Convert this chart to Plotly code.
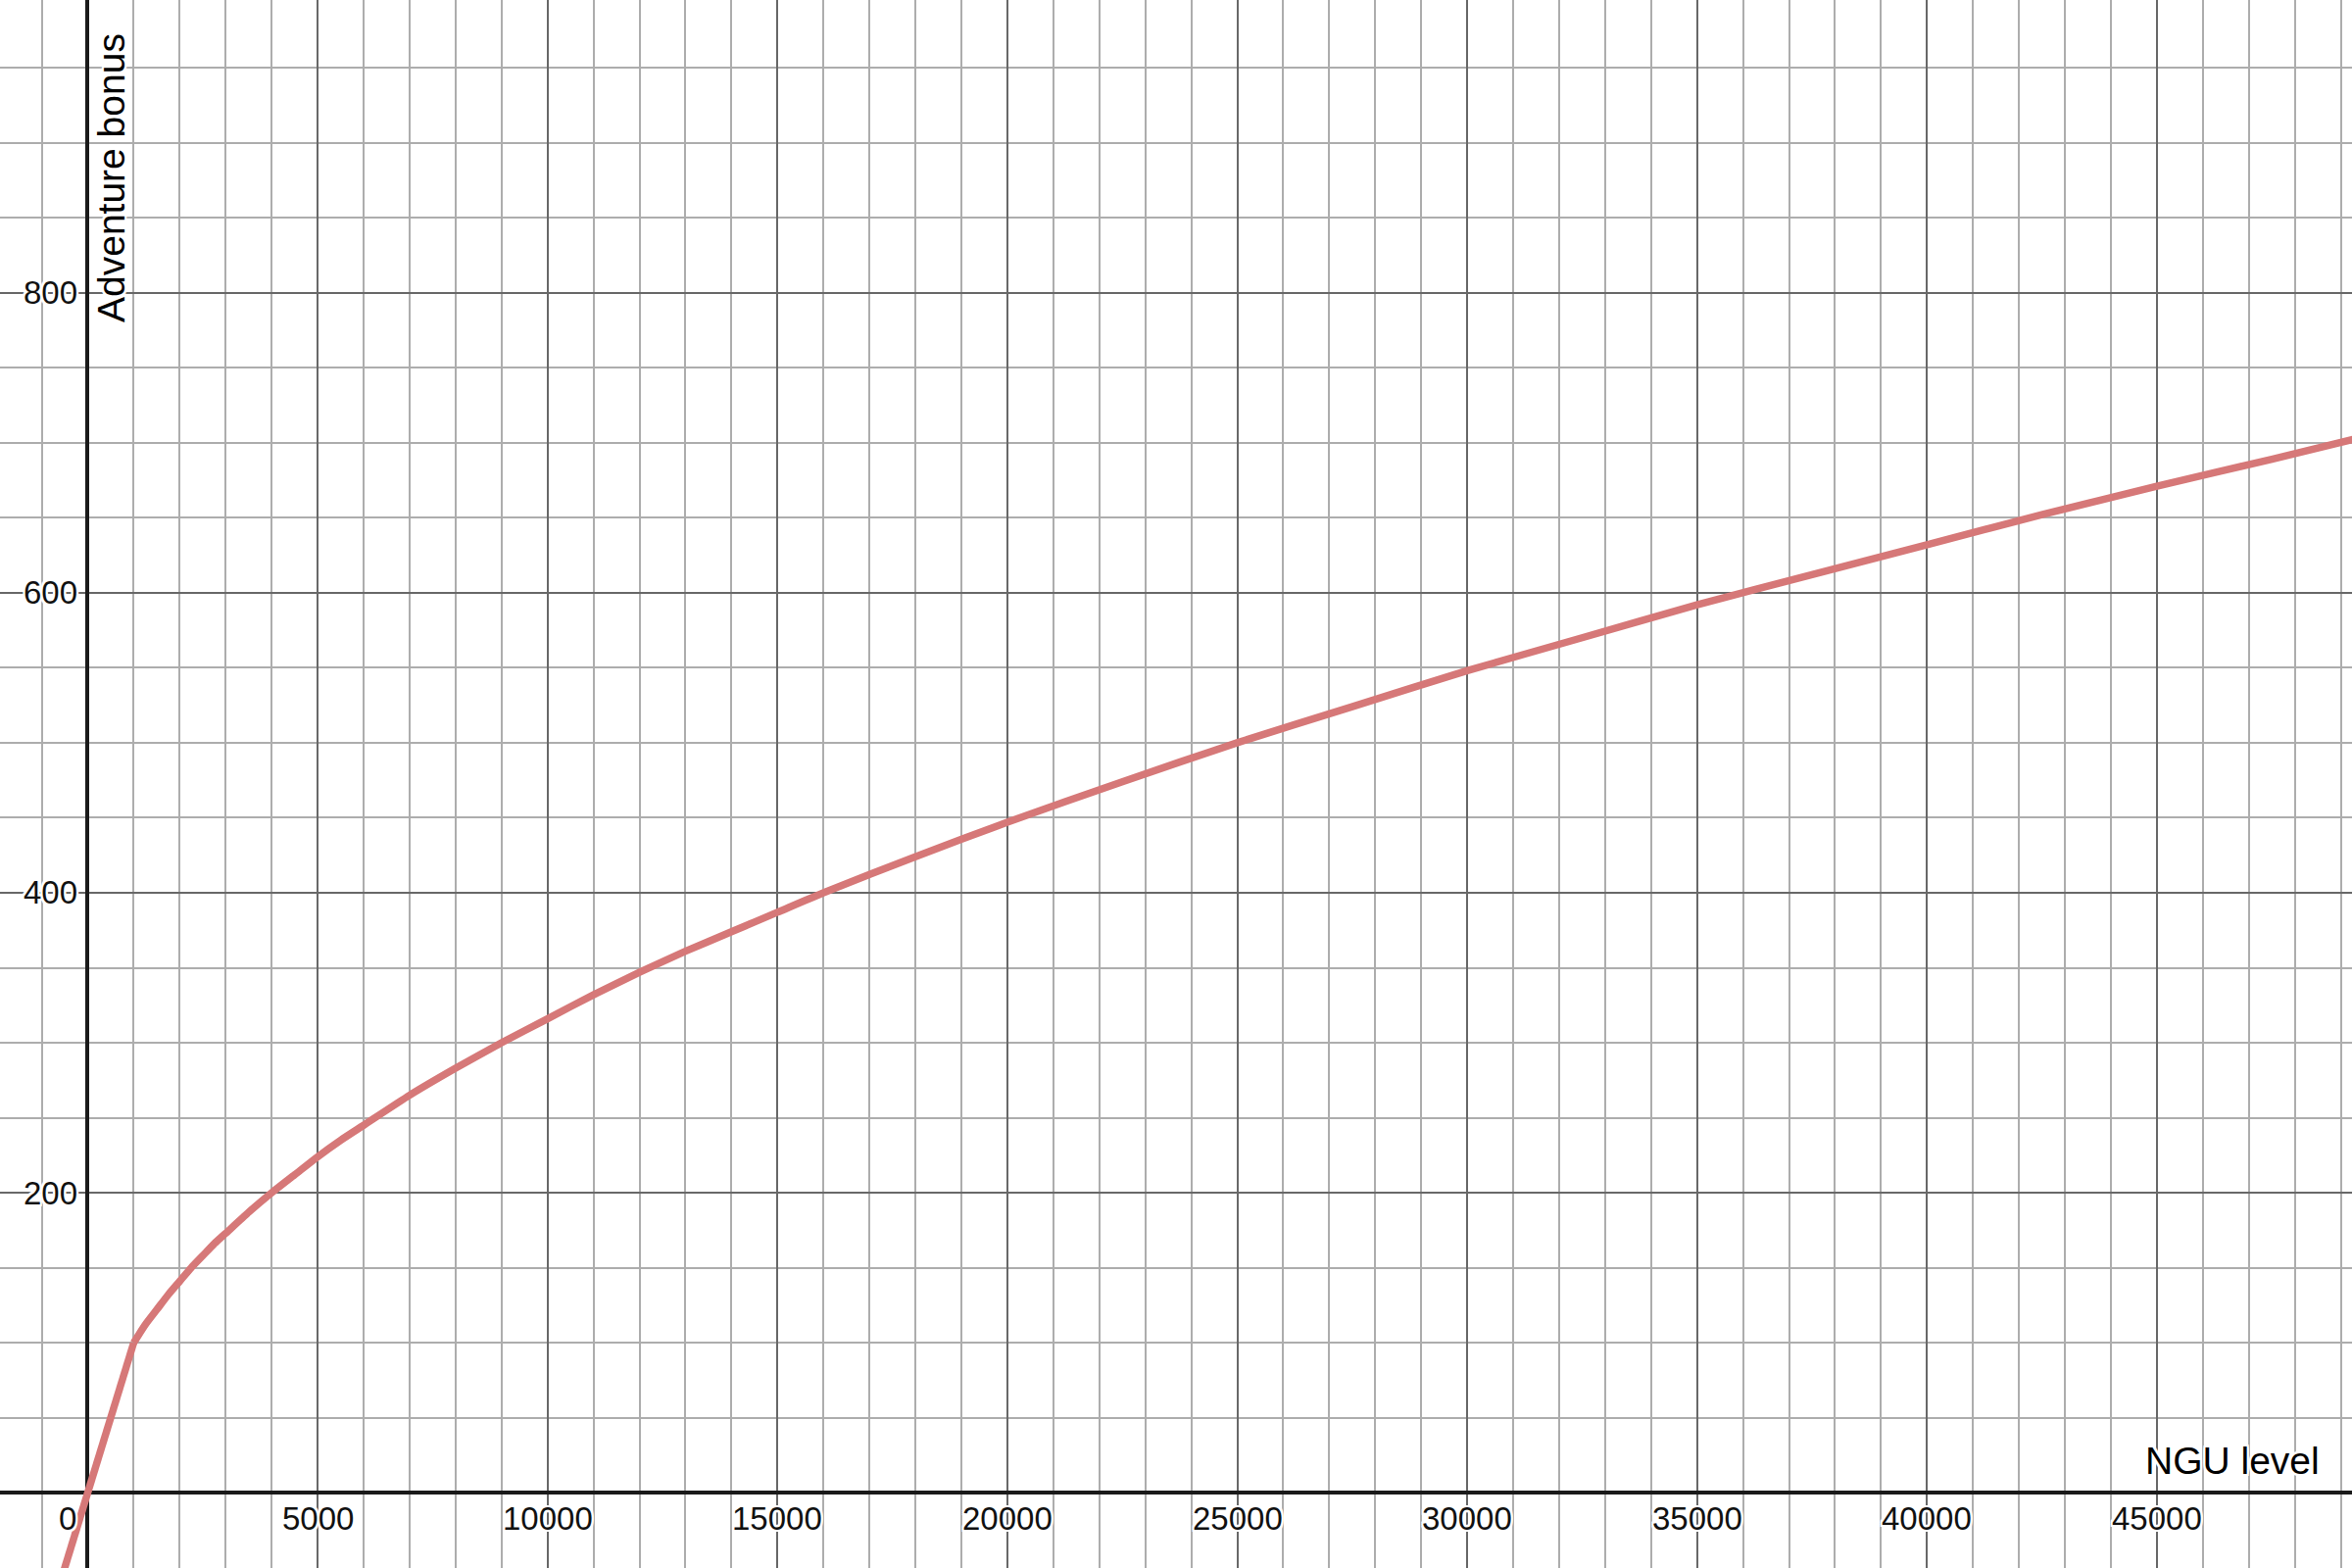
import plotly.graph_objects as go

# Values
ngu_level = [-600, 0, 1000, 1250, 1500, 1750, 2000, 2250, 2500, 2750, 3000, 3500, 4000,
             4500, 5000, 5500, 6000, 7000, 8000, 9000, 10000, 11000, 12000, 13000, 14000,
             15000, 16000, 18000, 20000, 22500, 25000, 27500, 30000, 32500, 35000,
             37500, 40000, 42500, 45000, 47500, 49500]
adventure_bonus = [-60, 0, 100, 112, 122, 132, 141, 150, 158, 166, 173, 187, 200,
                   212, 224, 235, 245, 265, 283, 300, 316, 332, 347, 361, 374,
                   387, 400, 424, 447, 474, 500, 524, 548, 570, 592,
                   612, 632, 652, 671, 689, 704]
KINK = 2  # index of the breakpoint (1000, 100)

x_tick_vals = [5000, 10000, 15000, 20000, 25000, 30000, 35000, 40000, 45000]
y_tick_vals = [200, 400, 600, 800]
x_title = "NGU level"
y_title = "Adventure bonus"

X_RANGE = [-1907, 49243]
Y_RANGE = [-50.1, 995.1]

HALO = ("2px 0 0 #fff, -2px 0 0 #fff, 0 2px 0 #fff, 0 -2px 0 #fff, "
        "2px 2px 0 #fff, -2px -2px 0 #fff, 2px -2px 0 #fff, -2px 2px 0 #fff")
LABEL_FONT = dict(family="Liberation Sans, Arial, sans-serif", size=33, color="#111111",
                  shadow=HALO)
CURVE = dict(color="rgb(214,120,120)", width=7.5)

fig = go.Figure()
fig.add_trace(go.Scatter(
    x=ngu_level[:KINK + 1], y=adventure_bonus[:KINK + 1], mode="lines",
    line=CURVE, hoverinfo="skip", showlegend=False,
))
fig.add_trace(go.Scatter(
    x=ngu_level[KINK:], y=adventure_bonus[KINK:], mode="lines",
    line=dict(shape="spline", smoothing=0.6, **CURVE), hoverinfo="skip", showlegend=False,
))

annotations = []
for v in x_tick_vals:
    annotations.append(dict(x=v, y=0, xref="x", yref="y", text=str(v), showarrow=False,
                            xanchor="center", yanchor="middle", yshift=-26, font=LABEL_FONT))
annotations.append(dict(x=0, y=0, xref="x", yref="y", text="0", showarrow=False,
                        xanchor="right", yanchor="middle", yshift=-26, xshift=-9, font=LABEL_FONT))
for v in y_tick_vals:
    annotations.append(dict(x=0, y=v, xref="x", yref="y", text=str(v), showarrow=False,
                            xanchor="right", yanchor="middle", xshift=-8, font=LABEL_FONT))

TITLE_FONT = dict(family="Liberation Sans, Arial, sans-serif", size=39, color="#000000",
                  shadow=HALO)
annotations.append(dict(x=2278 / 2400, y=1 - 1490 / 1600, xref="paper", yref="paper",
                        text=x_title, showarrow=False, xanchor="center", yanchor="middle",
                        font=TITLE_FONT))
annotations.append(dict(x=113 / 2400, y=1 - 182 / 1600, xref="paper", yref="paper",
                        text=y_title, showarrow=False, xanchor="center", yanchor="middle",
                        textangle=-90, font=TITLE_FONT))

axis_common = dict(
    showgrid=True, gridcolor="#686868", gridwidth=2,
    zeroline=True, zerolinecolor="#1a1a1a", zerolinewidth=4,
    showticklabels=False, ticks="", showline=False, fixedrange=True,
)

fig.update_layout(
    width=2400, height=1600,
    margin=dict(l=0, r=0, t=0, b=0, pad=0),
    paper_bgcolor="white", plot_bgcolor="white",
    xaxis=dict(range=X_RANGE, dtick=5000, tick0=0,
               minor=dict(dtick=1000, tick0=0, showgrid=True, gridcolor="#adadad", gridwidth=2),
               **axis_common),
    yaxis=dict(range=Y_RANGE, dtick=200, tick0=0,
               minor=dict(dtick=50, tick0=0, showgrid=True, gridcolor="#adadad", gridwidth=2),
               **axis_common),
    annotations=annotations,
)

fig.write_html(
    "out.html",
    config={"displayModeBar": False},
    post_script="document.body.style.margin='0';document.body.style.overflow='hidden';",
)
